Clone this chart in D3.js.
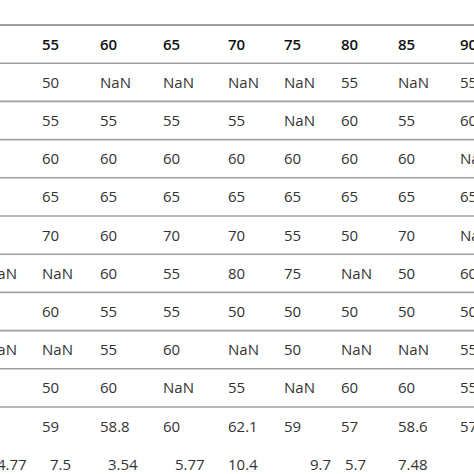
<!DOCTYPE html>
<html><head><meta charset="utf-8">
<script src="https://cdn.jsdelivr.net/npm/d3@7"></script>
<style>body{margin:0;background:#fff}svg{display:block}</style>
</head><body>
<script>
const headers = ["", "55", "60", "65", "70", "75", "80", "85", "90"];
const leftCol = ["", "", "", "", "", "NaN", "", "NaN", "", "", "4.77"];
const row1 = ["50","NaN","NaN","NaN","NaN","55","NaN","55"];
const row2 = ["55","55","55","55","NaN","60","55","60"];
const row3 = ["60","60","60","60","60","60","60","NaN"];
const row4 = ["65","65","65","65","65","65","65","65"];
const row5 = ["70","60","70","70","55","50","70","NaN"];
const row6 = ["NaN","60","55","80","75","NaN","50","60"];
const row7 = ["60","55","55","50","50","50","50","50"];
const row8 = ["NaN","55","60","NaN","50","NaN","NaN","55"];
const row9 = ["50","60","NaN","55","NaN","60","60","55"];
const row10 = ["59","58.8","60","62.1","59","57","58.6","57"];
const row11 = ["7.5","3.54","5.77","10.4","9.7","5.7","7.48",""];

const body = [row1,row2,row3,row4,row5,row6,row7,row8,row9,row10,row11];
const W=474,H=474;
const svg=d3.select("body").append("svg").attr("width",W).attr("height",H);
const cols=d3.range(9);
const colX=d3.scaleOrdinal().domain(cols).range([-14,42,100,163,228,284,341,398,460]);
const lastX=d3.scaleOrdinal().domain(cols).range([-3,50,108,175,228,310,345,398,470]);
const y=d3.scaleLinear().domain([0,1]).range([25,63.2]);
const font="'Open Sans', Lato, sans-serif";
const fs=15;

d3.range(0,11).forEach(i=>{
  svg.append("line").attr("x1",0).attr("x2",W).attr("y1",y(i)).attr("y2",y(i))
    .attr("stroke","#a0a0a0").attr("stroke-width",i===0?2:1.6);
});
headers.forEach((h,i)=>{
  svg.append("text").attr("x",colX(i)).attr("y",y(0.5)).attr("dy","0.36em")
    .attr("font-family",font).attr("font-size",fs).attr("font-weight","600")
    .attr("fill","#111").text(h);
});
leftCol.forEach((v,r)=>{
  svg.append("text").attr("x",r===10?lastX(0):colX(0)).attr("y",y(r+1.5)).attr("dy","0.36em")
    .attr("font-family",font).attr("font-size",fs).attr("fill","#333").text(v);
});
body.forEach((row,r)=>{
  row.forEach((v,c)=>{
    svg.append("text").attr("x",r===10?lastX(c+1):colX(c+1)).attr("y",y(r+1.5)).attr("dy","0.36em")
      .attr("font-family",font).attr("font-size",fs).attr("fill","#333").text(v);
  });
});
</script>
</body></html>
